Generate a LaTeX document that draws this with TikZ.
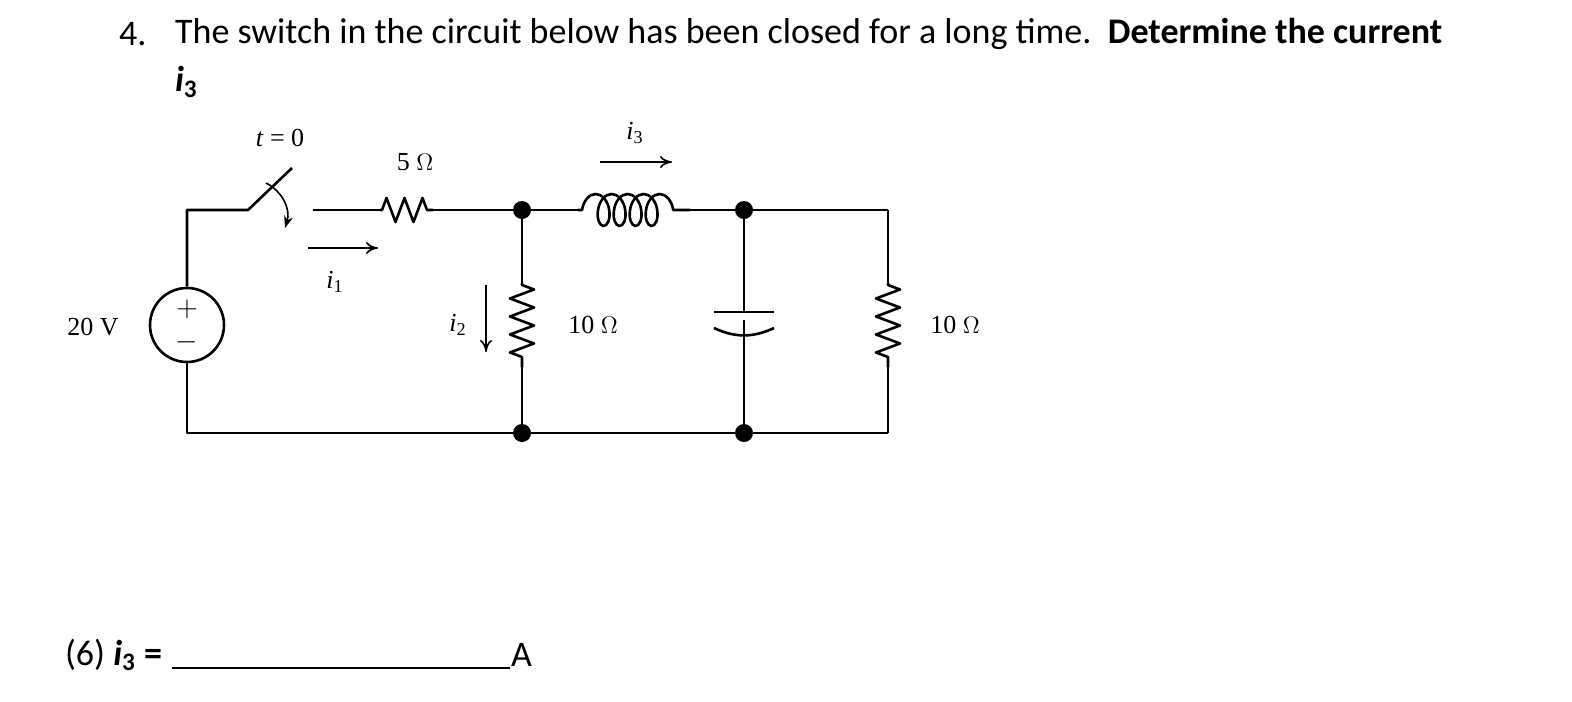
\documentclass[tikz,border=0pt]{standalone}
\usepackage{fontspec}
\setmainfont{Carlito}
\newfontfamily\serif{Liberation Serif}
\usetikzlibrary{decorations.pathmorphing,arrows.meta}
\tikzset{
  wire/.style={line width=1.3pt,line join=round},
  res/.style={wire,decorate,decoration={zigzag,segment length=9pt,amplitude=6pt,pre length=1pt,post length=1pt}},
  coilstyle/.style={wire,decorate,decoration={coil,aspect=0.6,segment length=8pt,amplitude=8pt,pre length=2pt,post length=2pt}},
  dot/.style={circle,fill,inner sep=0pt,minimum size=9pt},
  cur/.style={line width=0.8pt,-{To[length=6pt,width=6pt]}},
  lbl/.style={font=\serif\fontsize{13}{15}\selectfont,inner sep=1pt}
}
\newcommand{\cur}[1]{\textit{i}\textsubscript{#1}}
\begin{document}
\begin{tikzpicture}[x=0.5pt,y=-0.5pt]
\useasboundingbox (0,0) rectangle (1572,701);
% question
\node[anchor=west,font=\fontsize{18}{21}\selectfont] (num) at (112,34) {4.};
\node[anchor=west,font=\fontsize{18}{21}\selectfont] (q) at (168,34) {The switch in the circuit below has been closed for a long time.\ \ \textbf{Determine the current}};
\node[anchor=west,font=\fontsize{18}{21}\selectfont] (qi) at (168,82) {\textbf{\cur{3}}};
% corners
\coordinate (tl) at (187,210);
\coordinate (bl) at (187,433);
\coordinate (sw) at (248,210);
\coordinate (sc) at (313,210);
\node[dot] (n1) at (522,210) {};
\node[dot] (n2) at (744,210) {};
\node[dot] (n3) at (522,433) {};
\node[dot] (n4) at (744,433) {};
\coordinate (tr) at (888,210);
\coordinate (br) at (888,433);
% source
\node[circle,draw,wire,minimum size=37pt,inner sep=0pt] (src) at (187,325) {};
\node[font=\fontsize{14}{16}\selectfont] at (187,309) {$+$};
\node[font=\fontsize{14}{16}\selectfont] at (187,342) {$-$};
\node[lbl] (v) at (93,327) {20 V};
\draw[wire] (src) -- (tl) -- (sw) -- ++(44,-42);
\draw[line width=0.8pt,-{Stealth[length=6pt]}] (266,183) to[bend left=40] (285,228);
\node[lbl] (t0) at (280,138) {\textit{t} = 0};
% top wire
\draw[wire] (sc) -- (380,210);
\draw[res] (380,210) -- (433,210);
\draw[wire] (433,210) -- (n1) -- (578,210);
\draw[coilstyle] (578,210) -- (690,210);
\draw[wire] (690,210) -- (n2) -- (tr);
\node[lbl] (r1) at (415,162) {5 $\Omega$};
\draw[cur] (600,162) -- (672,162);
\node[lbl] (i3) at (635,133) {\cur{3}};
\draw[cur] (308,248) -- (378,248);
\node[lbl] (i1) at (335,282) {\cur{1}};
% middle resistor
\draw[wire] (n1) -- (522,283);
\draw[res] (522,283) -- (522,367);
\draw[wire] (522,367) -- (n3);
\draw[cur] (486,285) -- (486,352);
\node[lbl] (i2) at (458,325) {\cur{2}};
\node[lbl] (r2) at (593,325) {10 $\Omega$};
% capacitor
\draw[wire] (n2) -- (744,312) (714,312) -- (774,312);
\draw[wire] (714,328) to[bend right=25] (774,328);
\draw[wire] (744,320) -- (n4);
% right resistor
\draw[wire] (tr) -- (888,283);
\draw[res] (888,283) -- (888,367);
\draw[wire] (888,367) -- (br);
\node[lbl] (r3) at (955,325) {10 $\Omega$};
% bottom
\draw[wire] (src) -- (bl) -- (n3) -- (n4) -- (br);
% answer
\node[anchor=west,font=\fontsize{18}{21}\selectfont] (ans) at (58,655) {(6) \textbf{\cur{3} =}};
\draw[line width=0.8pt] (172,668) -- (510,668);
\node[anchor=west,font=\fontsize{18}{21}\selectfont] (amp) at (504,655) {A};
\end{tikzpicture}
\end{document}
